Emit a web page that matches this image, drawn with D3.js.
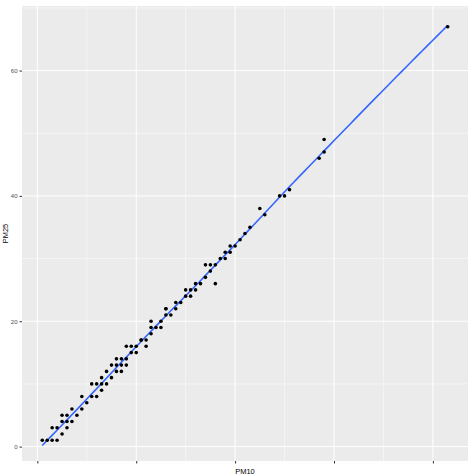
<!DOCTYPE html>
<html><head><meta charset="utf-8">
<script src="https://cdn.jsdelivr.net/npm/d3@7"></script>
<style>body{margin:0;background:#fff}</style></head>
<body><svg id="c" width="474" height="476"></svg>
<script>
const pm10 = [1,2,3,4,3,4,5,6,5,6,5,6,7,7,8,9,9,10,11,12,11,12,13,13,13,14,14,15,15,16,17,16,17,16,17,18,18,18,19,19,20,20,21,21,22,22,23,23,23,24,25,25,26,26,26,27,28,28,29,30,30,31,31,32,33,32,36,34,34,35,36,35,37,38,38,39,39,40,41,42,43,45,46,49,50,51,57,58,58,83];
const pm25 = [1,1,1,1,3,3,5,5,4,4,2,3,6,4,5,8,6,7,10,10,8,8,11,10,9,12,10,13,11,14,14,13,13,12,12,13,14,16,16,15,16,15,17,17,17,16,19,18,20,19,19,20,21,22,22,21,22,23,23,24,25,24,25,25,26,26,26,27,29,29,29,28,30,30,31,31,32,32,33,34,35,38,37,40,40,41,46,47,49,67];
const xTicks = [0,20,40,60,80];
const xTickLabels = ["","","","",""];
const yTicks = [0,20,40,60];

const svg = d3.select("#c");
const m = {l:22,r:6,t:6,b:15};
const W=474,H=476;
const x = d3.scaleLinear().domain([-3.1,87.1]).range([m.l,W-m.r]);
const y = d3.scaleLinear().domain([-2.3,70.3]).range([H-m.b,m.t]);
svg.append("rect").attr("x",m.l).attr("y",m.t).attr("width",W-m.r-m.l).attr("height",H-m.b-m.t).attr("fill","#ebebeb");
const g = svg.append("g");
const minor = a=>a.slice(0,-1).map((v,i)=>(v+a[i+1])/2);
const xm = minor([...xTicks,100]).filter(v=>v<87), ym=minor([...yTicks,80]).filter(v=>v<70);
ym.push(-10+0); 
g.selectAll(".xm").data(xm).enter().append("line").attr("x1",d=>x(d)).attr("x2",d=>x(d)).attr("y1",m.t).attr("y2",H-m.b).attr("stroke","#fff").attr("stroke-width",0.5);
g.selectAll(".ym").data(minor([-20,...yTicks,80]).filter(v=>v>-2.3&&v<70.3)).enter().append("line").attr("y1",d=>y(d)).attr("y2",d=>y(d)).attr("x1",m.l).attr("x2",W-m.r).attr("stroke","#fff").attr("stroke-width",0.5);
g.selectAll(".xM").data(xTicks).enter().append("line").attr("x1",d=>x(d)).attr("x2",d=>x(d)).attr("y1",m.t).attr("y2",H-m.b).attr("stroke","#fff").attr("stroke-width",1);
g.selectAll(".yM").data(yTicks).enter().append("line").attr("y1",d=>y(d)).attr("y2",d=>y(d)).attr("x1",m.l).attr("x2",W-m.r).attr("stroke","#fff").attr("stroke-width",1);

const xa = svg.append("g").attr("transform",`translate(0,${H-m.b})`).call(d3.axisBottom(x).tickValues(xTicks).tickSize(2.5).tickFormat((d,i)=>xTickLabels[i]));
const ya = svg.append("g").attr("transform",`translate(${m.l},0)`).call(d3.axisLeft(y).tickValues(yTicks).tickSize(2.5).tickPadding(2));
[xa,ya].forEach(a=>{a.select(".domain").remove();a.selectAll("line").attr("stroke","#333");a.selectAll("text").attr("fill","#4d4d4d").style("font-family","Liberation Sans, Arial").style("font-size","6px");});
svg.append("text").attr("x",(m.l+W-m.r)/2).attr("y",H-2).attr("text-anchor","middle").style("font-family","Liberation Sans, Arial").style("font-size","7.5px").text("PM10");
svg.append("text").attr("transform",`translate(8,${(m.t+H-m.b)/2}) rotate(-90)`).attr("text-anchor","middle").style("font-family","Liberation Sans, Arial").style("font-size","7.5px").text("PM25");

// loess (span .75, degree 2)
function loess(xs,ys,x0){
  const n=xs.length,q=Math.floor(0.75*n);
  const d=xs.map(v=>Math.abs(v-x0)),ds=[...d].sort((a,b)=>a-b),h=ds[q-1]||1e-9;
  let S=[[0,0,0],[0,0,0],[0,0,0]],T=[0,0,0];
  for(let i=0;i<n;i++){const u=d[i]/h;if(u>=1)continue;const w=Math.pow(1-u*u*u,3);const dx=xs[i]-x0;const b=[1,dx,dx*dx];
    for(let a=0;a<3;a++){T[a]+=w*b[a]*ys[i];for(let c=0;c<3;c++)S[a][c]+=w*b[a]*b[c];}}
  // solve 3x3
  const A=S.map((r,i)=>[...r,T[i]]);
  for(let i=0;i<3;i++){let p=i;for(let k=i+1;k<3;k++)if(Math.abs(A[k][i])>Math.abs(A[p][i]))p=k;[A[i],A[p]]=[A[p],A[i]];
    for(let k=0;k<3;k++){if(k===i)continue;const f=A[k][i]/A[i][i];for(let c=i;c<4;c++)A[k][c]-=f*A[i][c];}}
  return A[0][3]/A[0][0];
}
const lo=d3.min(pm10),hi=d3.max(pm10);
const fit=d3.range(80).map(i=>{const xv=lo+(hi-lo)*i/79;return [xv,loess(pm10,pm25,xv)];});
svg.append("path").datum(fit).attr("fill","none").attr("stroke","#3366FF").attr("stroke-width",1.6)
  .attr("d",d3.line().x(d=>x(d[0])).y(d=>y(d[1])));
svg.selectAll(".p").data(pm10).enter().append("circle").attr("cx",d=>x(d)).attr("cy",(d,i)=>y(pm25[i])).attr("r",1.8).attr("fill","#000");
</script></body></html>
